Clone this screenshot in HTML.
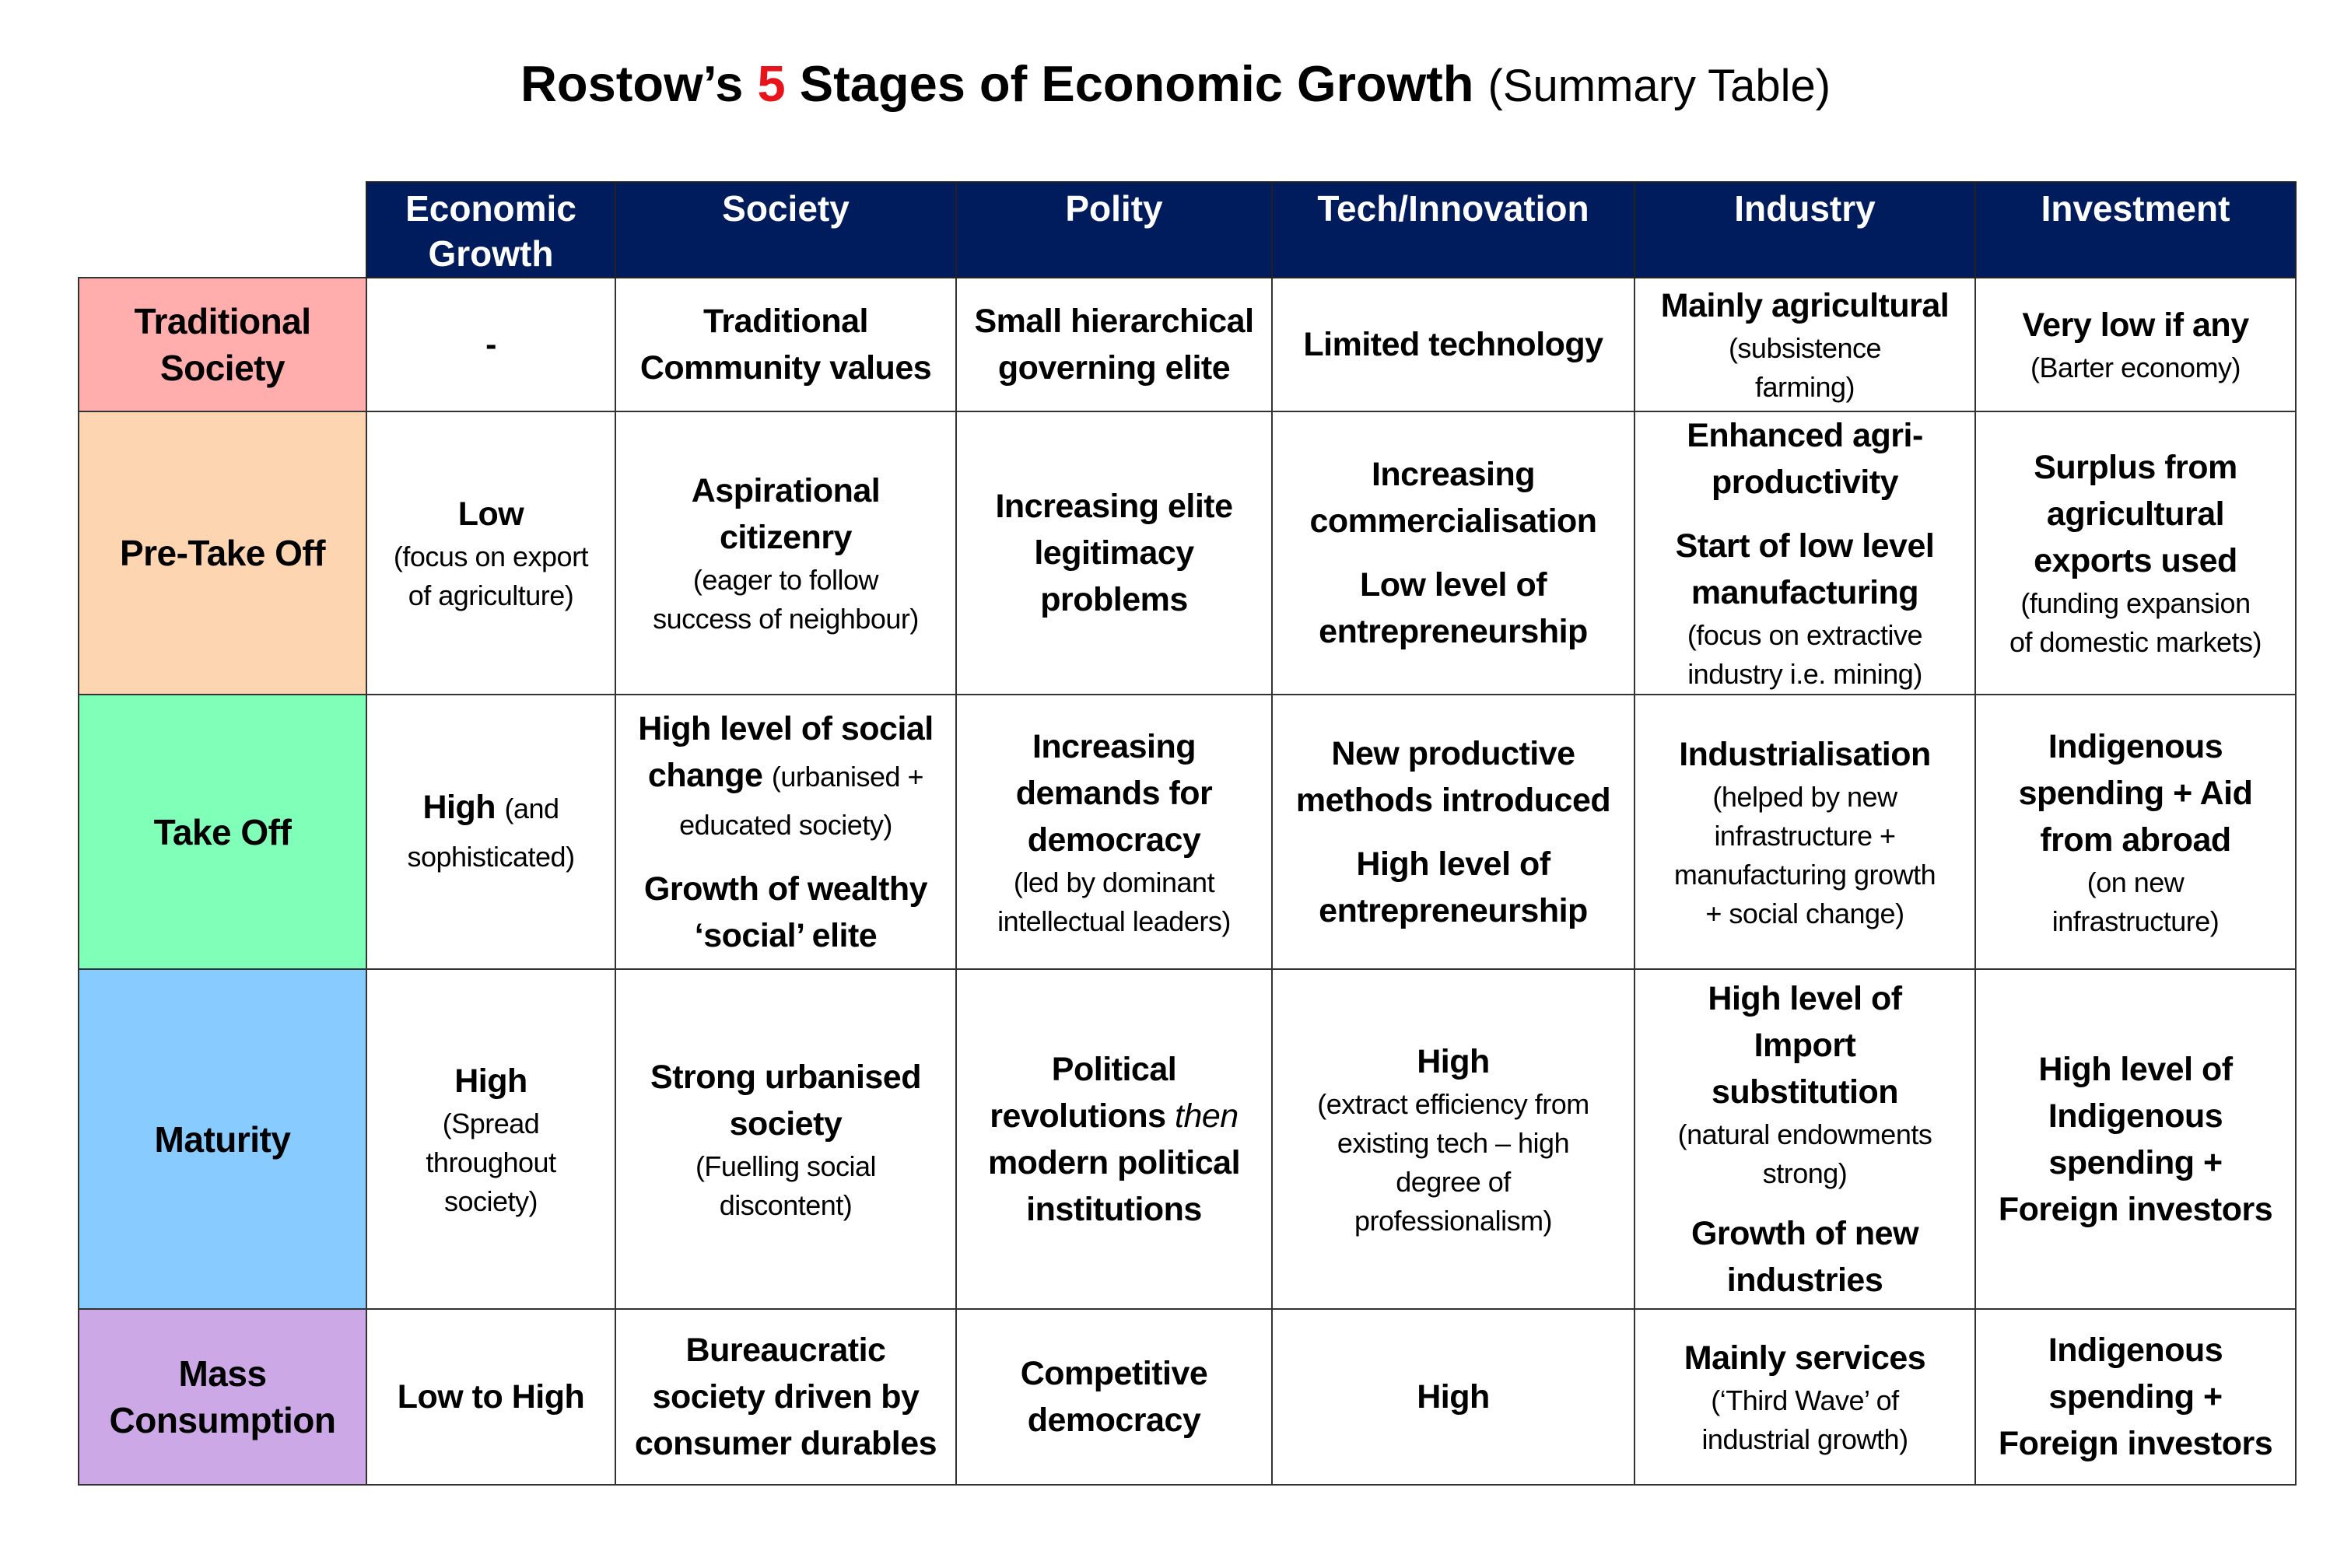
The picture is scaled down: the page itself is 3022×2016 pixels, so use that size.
<!DOCTYPE html>
<html><head><meta charset="utf-8"><style>
html,body{margin:0;padding:0;background:#fff;}
body{width:3022px;height:2016px;position:relative;font-family:"Liberation Sans",sans-serif;overflow:hidden;}
.title{position:absolute;top:70px;left:0;width:3022px;text-align:center;font-size:65px;font-weight:bold;color:#000;}
.title .n{color:#e8141c;}
.title .s{font-weight:normal;font-size:58px;}
table{position:absolute;left:100px;top:233px;border-collapse:collapse;table-layout:fixed;}
td{border:2px solid #333;text-align:center;vertical-align:middle;padding:0 8px;font-size:43px;font-weight:bold;line-height:60px;letter-spacing:-0.5px;color:#000;white-space:nowrap;}
td.e{border:none;background:#fff;}
th{background:#001c5c;color:#fff;font-size:46px;font-weight:bold;line-height:58px;border:2px solid #222;vertical-align:top;padding-top:4px;}
td.r{font-size:46px;line-height:60px;}
.sm{font-weight:normal;font-size:36px;line-height:50px;display:block;}
.sp{height:22px;display:block;}
</style></head><body>
<div class="title">Rostow’s <span class="n">5</span> Stages of Economic Growth <span class="s">(Summary Table)</span></div>
<table>
<colgroup><col style="width:370px"><col style="width:320px"><col style="width:438px"><col style="width:406px"><col style="width:466px"><col style="width:438px"><col style="width:412px"></colgroup>
<tr style="height:123px"><td class="e"></td><th>Economic<br>Growth</th><th>Society</th><th>Polity</th><th>Tech/Innovation</th><th>Industry</th><th>Investment</th></tr>
<tr style="height:172px"><td class="r" style="background:#ffadad">Traditional<br>Society</td><td>-</td><td>Traditional<br>Community values</td><td>Small hierarchical<br>governing elite</td><td>Limited technology</td><td>Mainly agricultural<span class="sm">(subsistence<br>farming)</span></td><td>Very low if any<span class="sm">(Barter economy)</span></td></tr>
<tr style="height:364px"><td class="r" style="background:#fdd5b1">Pre-Take Off</td><td>Low<span class="sm">(focus on export<br>of agriculture)</span></td><td>Aspirational<br>citizenry<span class="sm">(eager to follow<br>success of neighbour)</span></td><td>Increasing elite<br>legitimacy<br>problems</td><td>Increasing<br>commercialisation<span class="sp"></span>Low level of<br>entrepreneurship</td><td>Enhanced agri-<br>productivity<span class="sp"></span>Start of low level<br>manufacturing<span class="sm">(focus on extractive<br>industry i.e. mining)</span></td><td>Surplus from<br>agricultural<br>exports used<span class="sm">(funding expansion<br>of domestic markets)</span></td></tr>
<tr style="height:353px"><td class="r" style="background:#80ffb8">Take Off</td><td>High <span style="font-weight:normal;font-size:36px">(and<br>sophisticated)</span></td><td>High level of social<br>change <span style="font-weight:normal;font-size:36px">(urbanised +<br>educated society)</span><span class="sp"></span>Growth of wealthy<br>‘social’ elite</td><td>Increasing<br>demands for<br>democracy<span class="sm">(led by dominant<br>intellectual leaders)</span></td><td>New productive<br>methods introduced<span class="sp"></span>High level of<br>entrepreneurship</td><td>Industrialisation<span class="sm">(helped by new<br>infrastructure +<br>manufacturing growth<br>+ social change)</span></td><td>Indigenous<br>spending + Aid<br>from abroad<span class="sm">(on new<br>infrastructure)</span></td></tr>
<tr style="height:437px"><td class="r" style="background:#88ccff">Maturity</td><td>High<span class="sm">(Spread<br>throughout<br>society)</span></td><td>Strong urbanised<br>society<span class="sm">(Fuelling social<br>discontent)</span></td><td>Political<br>revolutions <i style="font-weight:normal">then</i><br>modern political<br>institutions</td><td>High<span class="sm">(extract efficiency from<br>existing tech – high<br>degree of<br>professionalism)</span></td><td>High level of<br>Import<br>substitution<span class="sm">(natural endowments<br>strong)</span><span class="sp"></span>Growth of new<br>industries</td><td>High level of<br>Indigenous<br>spending +<br>Foreign investors</td></tr>
<tr style="height:226px"><td class="r" style="background:#cca8e6">Mass<br>Consumption</td><td>Low to High</td><td>Bureaucratic<br>society driven by<br>consumer durables</td><td>Competitive<br>democracy</td><td>High</td><td>Mainly services<span class="sm">(‘Third Wave’ of<br>industrial growth)</span></td><td>Indigenous<br>spending +<br>Foreign investors</td></tr>
</table>
</body></html>
